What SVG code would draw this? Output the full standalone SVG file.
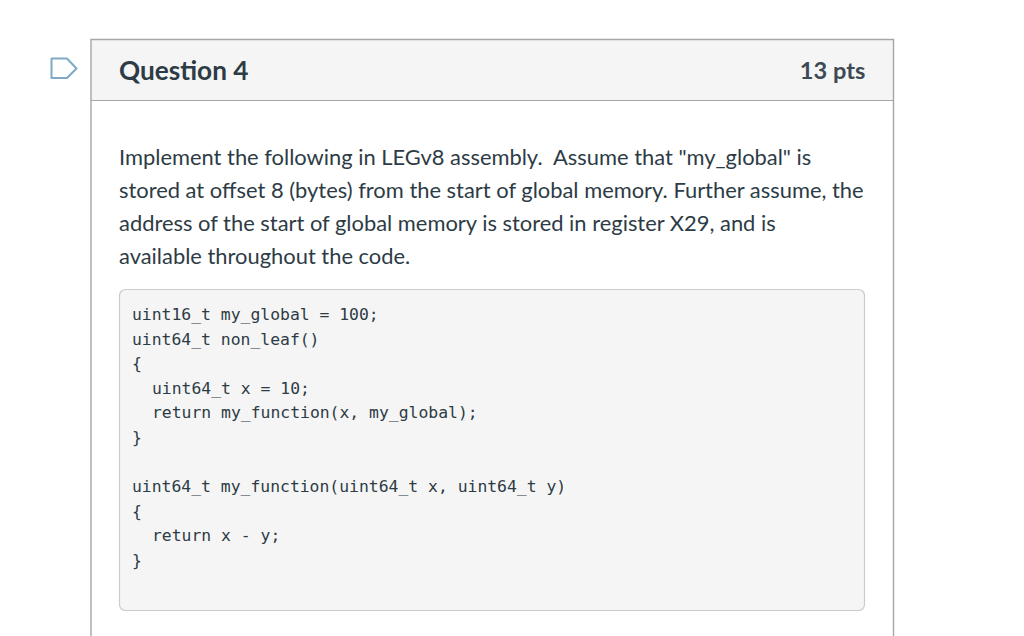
<svg xmlns="http://www.w3.org/2000/svg" width="1024" height="636" viewBox="0 0 1024 636">
<style>
.t{font-family:"Lato","Liberation Sans",sans-serif;font-size:21.9px;fill:#2d3b45}
.h{font-family:"Lato","Liberation Sans",sans-serif;font-size:26.2px;font-weight:700;fill:#2d3b45}
.p{font-family:"Lato","Liberation Sans",sans-serif;font-size:23.6px;font-weight:700;fill:#3d4a54}
.c{font-family:"DejaVu Sans Mono","Liberation Mono",monospace;font-size:16.4px;fill:#2d3b45}
</style>
<rect width="1024" height="636" fill="#fff"/>
<g id="flag"><path d="M51.500 58.500H67L76.500 68.500L67 78H51.500Z" fill="#fff" stroke="#7fa9c6" stroke-width="2" stroke-linejoin="round"/></g>
<g id="card">
<rect x="91" y="39.500" width="802.500" height="61" fill="#f5f5f5"/>
<path d="M91 100.500H893.500" stroke="#a6a6a6" stroke-width="1.200"/>
<path d="M91 636V39.500H893.500V636" fill="none" stroke="#a6a6a6" stroke-width="1.400"/>
<text class="h" x="119" y="79.500">Question 4</text>
<text class="p" x="865.300" y="78.500" text-anchor="end">13 pts</text>
<text class="t" x="119" y="165">Implement the following in LEGv8 assembly.&#160; Assume that "my_global" is</text>
<text class="t" x="119" y="198">stored at offset 8 (bytes) from the start of global memory. Further assume, the</text>
<text class="t" x="119" y="231">address of the start of global memory is stored in register X29, and is</text>
<text class="t" x="119" y="264">available throughout the code.</text>
</g>
<g id="code">
<rect x="119.500" y="289.500" width="745" height="321" rx="6" fill="#f5f5f5" stroke="#c7cdd1" stroke-width="1.200"/>
<text class="c" x="132" y="320">uint16_t my_global = 100;</text>
<text class="c" x="132" y="344.500">uint64_t non_leaf()</text>
<text class="c" x="132" y="369">{</text>
<text class="c" x="152" y="393.500">uint64_t x = 10;</text>
<text class="c" x="152" y="418">return my_function(x, my_global);</text>
<text class="c" x="132" y="443">}</text>
<text class="c" x="132" y="492">uint64_t my_function(uint64_t x, uint64_t y)</text>
<text class="c" x="132" y="516.500">{</text>
<text class="c" x="152" y="541">return x - y;</text>
<text class="c" x="132" y="566">}</text>
</g>
</svg>
